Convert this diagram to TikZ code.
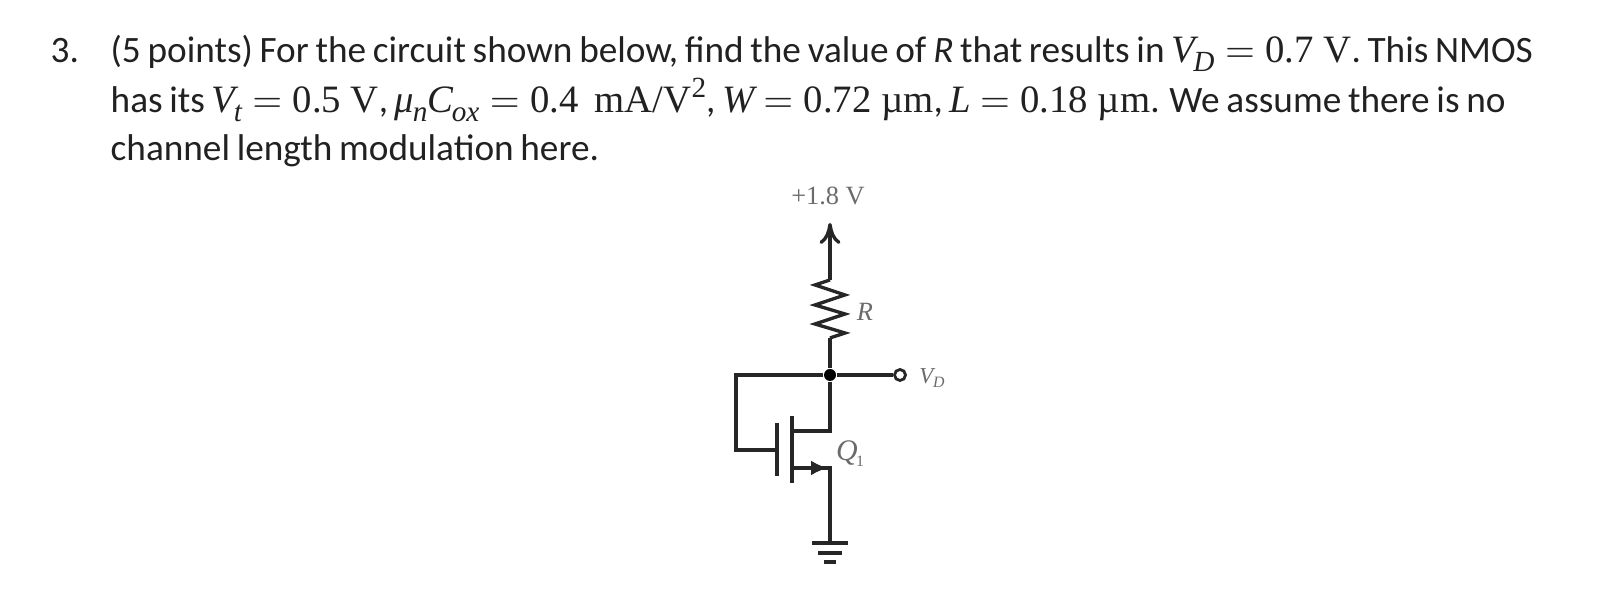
\documentclass[tikz,border=0pt]{standalone}
\usepackage{amsmath}
\usepackage{fontspec}
\setmainfont[WordSpace=0.8]{Carlito}
\newfontfamily\serifnum[Scale=1.04]{Liberation Serif}
\newfontfamily\serifsmall{Liberation Serif}
\usetikzlibrary{arrows.meta}
\definecolor{inkdark}{gray}{0.13}
\definecolor{inklight}{gray}{0.42}
\tikzset{
  textline/.style={anchor=base west, inner sep=0pt, text=inkdark, font=\fontsize{10.6pt}{13pt}\selectfont},
  wire/.style={line width=0.95pt, color=black!85},
  plate/.style={line width=1.3pt, color=black!85},
  circlabel/.style={inner sep=0pt, text=inklight, font=\serifsmall\fontsize{7.5pt}{9pt}\selectfont}
}
\newcommand{\num}[1]{{\serifnum #1}}
\newcommand{\mv}[2]{{\serifnum\itshape #1\kern-0.04em\raisebox{-0.22em}{\fontsize{8pt}{9pt}\selectfont #2}}}
\newcommand{\eqs}{\kern0.28em$=$\kern0.28em}
\begin{document}
\begin{tikzpicture}
\useasboundingbox (0,0) rectangle (16.08,6.10);
\node[textline] (qnum) at (0.50,5.47) {3.};
\node[textline] (lineone) at (1.10,5.47) {(5 points) For the circuit shown below, find the value of \textit{R} that results in \mv{V}{D}\eqs\num{0.7 V}. This NMOS};
\node[textline] (linetwo) at (1.10,4.97) {has its \mv{V}{t}\eqs\num{0.5 V}, \mv{μ}{n}\mv{C}{ox}\eqs\num{0.4\, mA/V}\raisebox{0.42em}{\fontsize{8pt}{9pt}\selectfont\serifnum 2}, \mv{W}{}\eqs\num{0.72 µm}, \mv{L}{}\eqs\num{0.18 µm}. We assume there is no};
\node[textline] (linethree) at (1.10,4.49) {channel length modulation here.};

\coordinate (vdd) at (8.30,3.87);
\coordinate (rtop) at (8.30,3.30);
\coordinate (rbot) at (8.30,2.72);
\coordinate (corner) at (7.36,2.35);
\coordinate (gatecorner) at (7.36,1.60);
\coordinate (drainjoin) at (8.30,1.79);
\coordinate (sourcejoin) at (8.30,1.42);
\coordinate (draintap) at (7.92,1.79);
\coordinate (sourcetap) at (7.92,1.42);
\coordinate (arrowend) at (8.28,1.42);
\coordinate (gnd) at (8.30,0.67);
\node[circle, fill=black, inner sep=0pt, minimum size=0.12cm] (dnode) at (8.30,2.35) {};
\node[circle, draw=black!85, line width=0.8pt, fill=white, inner sep=0pt, minimum size=0.11cm] (vdterm) at (9.00,2.35) {};
\node[inner sep=0pt, minimum size=0pt] (gateplate) at (7.77,1.60) {};

\draw[wire, -{To[length=2.1mm, width=2.1mm]}] (rtop) -- (vdd);
\draw[wire] (rtop) -- ++(-0.15,-0.05) -- ++(0.30,-0.10) -- ++(-0.30,-0.10) -- ++(0.30,-0.09) -- ++(-0.30,-0.10) -- ++(0.30,-0.09) -- (rbot);
\draw[wire] (rbot) -- (dnode);
\draw[wire] (dnode) -- (vdterm);
\draw[wire] (dnode) -- (corner) -- (gatecorner) -- (gateplate);
\draw[wire] (dnode) -- (drainjoin) -- (draintap);
\draw[plate] (7.77,1.87) -- (7.77,1.34);
\draw[plate] (7.92,1.94) -- (7.92,1.27);
\draw[wire] (sourcetap) -- (sourcejoin) -- (gnd);
\draw[wire, -{Latex[length=1.7mm, width=1.5mm]}] (sourcetap) -- (arrowend);
\draw[plate] (8.12,0.67) -- (8.48,0.67);
\draw[plate] (8.18,0.57) -- (8.42,0.57);
\draw[plate] (8.24,0.48) -- (8.36,0.48);

\node[circlabel] (vddlabel) at (8.28,4.14) {+1.8 V};
\node[circlabel] (rlabel) at (8.65,2.98) {\textit{R}};
\node[circlabel, font=\serifsmall\fontsize{6.5pt}{8pt}\selectfont] (vdlabel) at (9.32,2.32) {\textit{V}\kern-0.1em\raisebox{-0.2em}{\fontsize{4.5pt}{5pt}\selectfont\textit{D}}};
\node[circlabel, font=\serifsmall\fontsize{8.5pt}{10pt}\selectfont] (qlabel) at (8.50,1.56) {\textit{Q}\kern-0.05em\raisebox{-0.2em}{\fontsize{4.5pt}{5pt}\selectfont 1}};
\end{tikzpicture}
\end{document}
